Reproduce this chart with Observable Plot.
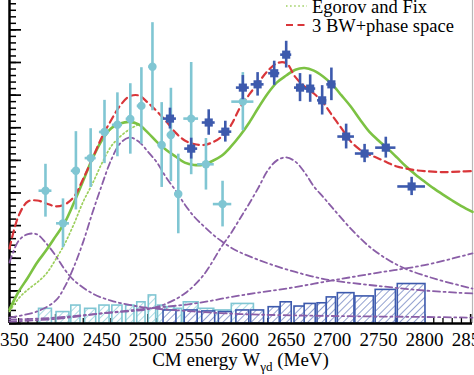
<!DOCTYPE html>
<html>
<head>
<meta charset="utf-8">
<script src="https://cdn.jsdelivr.net/npm/d3@7"></script>
<script src="https://cdn.jsdelivr.net/npm/@observablehq/plot@0.6"></script>
<style>
  body { margin: 0; background: #fff; overflow: hidden; }
  #chart svg { display: block; }
</style>
</head>
<body>
<svg width="0" height="0" style="position:absolute">
  <defs>
    <pattern id="hatchCyan" patternUnits="userSpaceOnUse" width="5" height="5" patternTransform="rotate(45)">
      <rect width="5" height="5" fill="#ffffff"></rect>
      <line x1="0" y1="0" x2="0" y2="5" stroke="#86cbd6" stroke-width="1.4"></line>
    </pattern>
    <pattern id="hatchBlue" patternUnits="userSpaceOnUse" width="5" height="5" patternTransform="rotate(45)">
      <rect width="5" height="5" fill="#ffffff"></rect>
      <line x1="0" y1="0" x2="0" y2="5" stroke="#4a62b0" stroke-width="1.2"></line>
    </pattern>
  </defs>
</svg>
<div id="chart"></div>
<script>
// ---------- axes ----------
const xDomain = [2350, 2852];
const yDomain = [0, 9.9];
const xMajor = [2350, 2400, 2450, 2500, 2550, 2600, 2650, 2700, 2750, 2800, 2850];
const xMinor = d3.range(2350, 2851, 10);
const yMajor = d3.range(0, 10, 1);
const yMinor = d3.range(0, 9.81, 0.2);
const legendLabels = ["Egorov and Fix", "3 BW+phase space"];
const xTitle = ["CM energy W", "\u03b3d", " (MeV)"];

// ---------- data: light (cyan) points ----------
const cyanE   = [2389, 2408, 2422, 2438, 2453, 2467, 2481, 2493, 2505, 2515, 2525, 2533, 2547, 2563, 2581, 2603];
const cyanV   = [4.07, 3.07, 4.68, 5.07, 5.87, 6.09, 6.27, 6.67, 7.87, 5.47, 5.78, 3.97, 6.28, 4.88, 3.66, 6.80];
const cyanErr = [0.81, 0.75, 1.20, 0.90, 0.97, 0.98, 1.08, 1.17, 1.35, 1.30, 1.43, 1.22, 1.72, 0.79, 0.70, 0.89];
const cyanDx  = [7, 7, 5, 6, 5.5, 5.5, 4.5, 4.5, 4, 4, 4, 4, 8, 9, 10, 12];
const cyanSys = [0.45, 0.35, 0.55, 0.45, 0.55, 0.55, 0.55, 0.65, 0.86, 0.55, 0.50, 0.45, 0.65, 0.45, 0.40, 0.60];

// ---------- data: dark (blue) points ----------
const blueE   = [2524, 2547, 2566, 2584, 2603, 2619, 2637, 2650, 2665, 2676, 2689, 2699, 2715, 2735, 2758, 2786];
const blueV   = [6.28, 5.36, 6.16, 5.88, 7.23, 7.33, 7.67, 8.24, 7.23, 7.20, 6.84, 7.33, 5.73, 5.21, 5.39, 4.20];
const blueErr = [0.32, 0.32, 0.39, 0.32, 0.37, 0.36, 0.37, 0.41, 0.43, 0.42, 0.45, 0.50, 0.38, 0.28, 0.32, 0.28];
const blueDx  = [7, 7, 7, 7, 7, 7, 6, 6, 6, 6, 5, 5, 9, 10, 11, 15];
const blueSys = [0.40, 0.40, 0.37, 0.35, 0.40, 0.40, 0.50, 0.65, 0.52, 0.60, 0.62, 0.80, 0.93, 0.83, 1.03, 1.21];

// ---------- curves ----------
const redE = [2350,2360,2370,2380,2390,2400,2410,2420,2430,2440,2450,2460,2470,2480,2490,2500,2510,2520,2530,2540,2550,2560,2570,2580,2590,2600,2610,2620,2630,2640,2650,2660,2670,2680,2690,2700,2710,2720,2730,2740,2750,2760,2770,2780,2790,2800,2820,2840,2852];
const redV = [2.30,3.31,3.74,3.77,3.68,3.59,3.65,3.89,4.44,5.06,5.70,6.22,6.68,6.96,6.99,6.77,6.50,6.19,5.85,5.61,5.50,5.47,5.55,5.73,6.07,6.62,7.02,7.39,7.74,7.98,7.98,7.55,7.26,7.05,6.77,6.37,5.98,5.58,5.33,5.18,5.06,4.93,4.81,4.75,4.70,4.67,4.64,4.66,4.67];

const greenE = [2350,2360,2370,2380,2390,2400,2410,2420,2430,2440,2450,2460,2470,2480,2490,2500,2510,2520,2530,2540,2550,2560,2570,2580,2590,2600,2610,2620,2630,2640,2650,2660,2670,2680,2690,2700,2710,2720,2730,2740,2750,2760,2770,2780,2790,2800,2810,2820,2830,2840,2852];
const greenV = [0.43,0.98,1.41,1.87,2.25,2.67,3.10,3.71,4.38,5.06,5.61,5.98,6.13,6.18,6.10,5.85,5.56,5.32,5.12,4.93,4.86,4.87,4.98,5.14,5.42,5.76,6.16,6.62,7.05,7.39,7.60,7.78,7.83,7.75,7.57,7.32,6.99,6.65,6.25,5.88,5.61,5.36,5.09,4.81,4.57,4.35,4.14,3.95,3.77,3.60,3.42];

const egorovE = [2350,2360,2370,2380,2390,2400,2410,2420,2430,2440,2450,2460,2470,2480,2490];
const egorovV = [0.37,0.77,1.04,1.26,1.53,1.96,2.45,3.06,3.74,4.29,4.90,5.42,5.73,5.95,6.10];

const bw1E = [2350,2360,2370,2380,2390,2400,2410,2420,2440,2460,2480,2500,2550,2600,2700,2800,2852];
const bw1V = [1.87,2.54,2.74,2.73,2.45,2.08,1.65,1.32,0.92,0.70,0.57,0.48,0.37,0.29,0.23,0.20,0.18];

const bw2E = [2350,2380,2400,2410,2420,2430,2440,2450,2460,2470,2480,2490,2500,2510,2520,2530,2540,2550,2560,2570,2580,2590,2600,2620,2640,2660,2680,2700,2750,2800,2852];
const bw2V = [0.18,0.37,0.70,1.13,1.75,2.51,3.40,4.23,5.00,5.52,5.70,5.58,5.27,4.93,4.47,4.08,3.65,3.28,3.00,2.74,2.52,2.33,2.18,1.95,1.75,1.58,1.43,1.32,1.15,1.01,0.92];

const bw3E = [2350,2400,2450,2500,2520,2540,2560,2580,2590,2600,2610,2620,2630,2640,2650,2660,2670,2680,2690,2700,2720,2740,2760,2780,2800,2820,2852];
const bw3V = [0.12,0.18,0.31,0.44,0.61,0.92,1.47,2.36,2.76,3.22,3.68,4.17,4.69,5.00,5.09,4.96,4.63,4.20,3.88,3.55,2.91,2.36,1.96,1.67,1.47,1.30,1.07];

const psE = [2350,2400,2450,2500,2550,2600,2650,2700,2750,2800,2852];
const psV = [0.06,0.14,0.31,0.46,0.61,0.86,1.07,1.32,1.56,1.79,2.15];

// ---------- colours ----------
const cCyan = "#80c6d3", cBlue = "#3d5aad", cRed = "#d9363a", cGreen = "#7cc243",
      cGreenDot = "#9ccf5c", cPurple = "#8a5ea7";

// ---------- tables ----------
const pts = (E, V, Err, Dx, Sys) => E.map((e, i) => ({e, v: V[i], err: Err[i], dx: Dx[i], sys: Sys[i]}));
const cyanData = pts(cyanE, cyanV, cyanErr, cyanDx, cyanSys);
const blueData = pts(blueE, blueV, blueErr, blueDx, blueSys);
const curve = (E, V) => E.map((e, i) => ({e, v: V[i]}));

const dashDot = "7,3.5,2,3.5";
const purpleLine = (E, V) => Plot.line(curve(E, V), {x: "e", y: "v", curve: "catmull-rom",
  stroke: cPurple, strokeWidth: 1.8, strokeDasharray: dashDot});

const plot = Plot.plot({
  width: 474, height: 375,
  marginLeft: 9, marginRight: 2, marginTop: 0, marginBottom: 52,
  x: {domain: xDomain},
  y: {domain: yDomain},
  style: {fontFamily: "Liberation Serif, serif", fontSize: "19px", color: "black", background: "white"},
  marks: [
    Plot.axisX({ticks: xMinor, tickSize: -5, tickFormat: () => "", label: null, strokeWidth: 1.3}),
    Plot.axisX({ticks: xMajor, tickSize: -9, tickFormat: () => "", label: null, strokeWidth: 1.6}),
    Plot.axisX({ticks: xMajor, tickSize: 0, tickPadding: 9, tickFormat: d => String(d), label: null, fontSize: 19}),
    Plot.axisY({ticks: yMinor, tickSize: -7, tickFormat: () => "", label: null, strokeWidth: 1.5}),
    Plot.axisY({ticks: yMajor, tickSize: -12, tickFormat: () => "", label: null, strokeWidth: 1.7}),
    // systematic-error bars
    Plot.rect(cyanData, {x1: d => d.e - d.dx, x2: d => d.e + d.dx, y1: 0, y2: "sys",
      fill: "url(#hatchCyan)", stroke: cCyan, strokeWidth: 1.6}),
    Plot.rect(blueData, {x1: d => d.e - d.dx, x2: d => d.e + d.dx, y1: 0, y2: "sys",
      fill: "url(#hatchBlue)", stroke: cBlue, strokeWidth: 1.6}),
    // frame lines
    Plot.ruleX([xDomain[1]], {stroke: "#b8b8b8", strokeWidth: 1.2}),
    Plot.ruleX([xDomain[0]], {stroke: "black", strokeWidth: 2.5}),
    Plot.ruleY([yDomain[0]], {stroke: "black", strokeWidth: 2.5}),
    // components
    purpleLine(psE, psV),
    purpleLine(bw1E, bw1V),
    purpleLine(bw2E, bw2V),
    purpleLine(bw3E, bw3V),
    // models
    Plot.line(curve(egorovE, egorovV), {x: "e", y: "v", curve: "catmull-rom",
      stroke: cGreenDot, strokeWidth: 1.7, strokeDasharray: "1.5,2.6"}),
    Plot.line(curve(greenE, greenV), {x: "e", y: "v", curve: "catmull-rom",
      stroke: cGreen, strokeWidth: 2.6}),
    Plot.line(curve(redE, redV), {x: "e", y: "v", curve: "catmull-rom",
      stroke: cRed, strokeWidth: 2.2, strokeDasharray: "7,4.5"}),
    // cyan data
    Plot.ruleX(cyanData, {x: "e", y1: d => d.v - d.err, y2: d => d.v + d.err, stroke: cCyan, strokeWidth: 2.6}),
    Plot.ruleY(cyanData, {y: "v", x1: d => d.e - d.dx, x2: d => d.e + d.dx, stroke: cCyan, strokeWidth: 2.6}),
    Plot.dot(cyanData, {x: "e", y: "v", r: 4.2, fill: cCyan, symbol: "circle"}),
    // blue data
    Plot.ruleX(blueData, {x: "e", y1: d => d.v - d.err, y2: d => d.v + d.err, stroke: cBlue, strokeWidth: 2.6}),
    Plot.ruleY(blueData, {y: "v", x1: d => d.e - d.dx, x2: d => d.e + d.dx, stroke: cBlue, strokeWidth: 2.6}),
    Plot.dot(blueData, {x: "e", y: "v", r: 4.6, fill: cBlue, symbol: "square"})
  ]
});

document.getElementById("chart").appendChild(plot);

// ---------- legend (inside the frame, top right) & axis title ----------
const svg = d3.select(plot);
const lg = svg.append("g").attr("font-family", "Liberation Serif, serif").attr("font-size", 18.5)
  .attr("fill", "black").attr("text-anchor", "start");
lg.append("line").attr("x1", 286).attr("x2", 307).attr("y1", 6).attr("y2", 6)
  .attr("stroke", cGreenDot).attr("stroke-width", 1.7).attr("stroke-dasharray", "1.5,2.6");
lg.append("text").attr("x", 312).attr("y", 12.5).text(legendLabels[0]);
lg.append("line").attr("x1", 286).attr("x2", 307).attr("y1", 25).attr("y2", 25)
  .attr("stroke", cRed).attr("stroke-width", 2.2).attr("stroke-dasharray", "7,4.5");
lg.append("text").attr("x", 312).attr("y", 31.5).text(legendLabels[1]);

const xr = plot.scale("x").range;
const t = svg.append("text").attr("x", (xr[0] + xr[1]) / 2).attr("y", 366)
  .attr("text-anchor", "middle").attr("font-family", "Liberation Serif, serif").attr("font-size", 19);
t.append("tspan").text(xTitle[0]);
t.append("tspan").attr("font-size", 13).attr("dy", 5).text(xTitle[1]);
t.append("tspan").attr("dy", -5).text(xTitle[2]);
</script>
</body>
</html>
